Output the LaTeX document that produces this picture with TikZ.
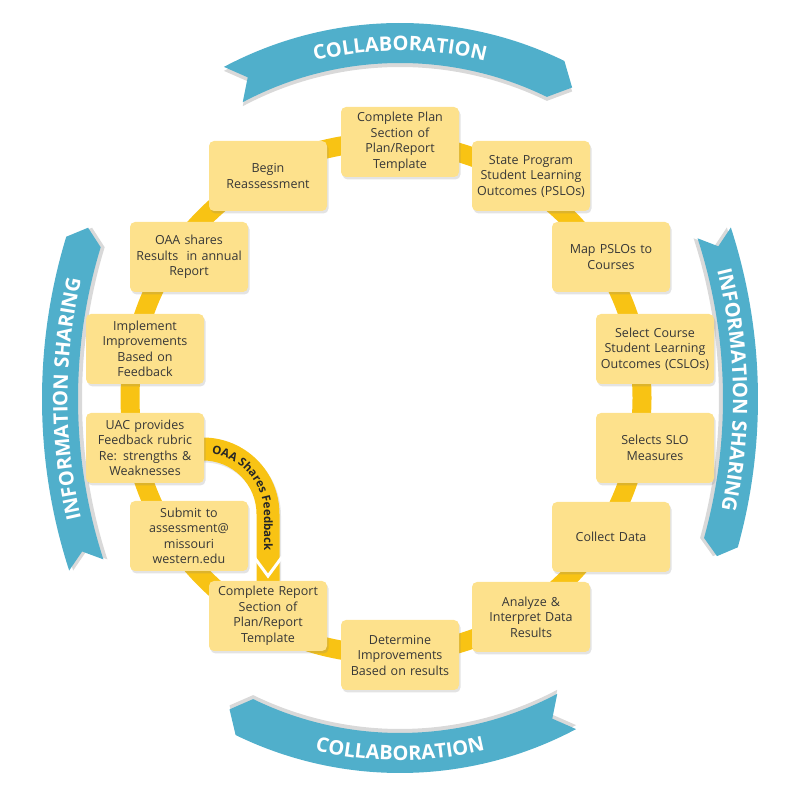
\documentclass[tikz,border=0pt]{standalone}
\usepackage{fontspec}
\setmainfont{Open Sans}
\usetikzlibrary{decorations.text,shadows}
\definecolor{boxfill}{RGB}{253,225,140}
\definecolor{ringc}{RGB}{248,195,20}
\definecolor{ribbonblue}{RGB}{80,175,203}
\definecolor{txt}{RGB}{55,55,55}
\newcommand\rbtxt{\fontsize{20}{20}\selectfont\bfseries\color{white}}
\newcommand\fbtxt{\fontsize{11.5}{13}\selectfont\bfseries\color{black!85}}
\begin{document}
\begin{tikzpicture}[x=1pt,y=1pt,
  stepbox/.style={draw=none, fill=boxfill, rounded corners=5pt,
    minimum width=118pt, minimum height=70pt, text width=114pt, align=center,
    font=\fontsize{12.5}{15.5}\selectfont, text=txt, inner sep=2pt,
    drop shadow={shadow xshift=1.5pt,shadow yshift=-2.5pt,opacity=0.22}},
  ribbonfill/.style={fill=ribbonblue},
  ringline/.style={draw=ringc, line width=19pt},
  feedband/.style={fill=ringc, drop shadow={shadow xshift=1.5pt,shadow yshift=-2pt,opacity=0.2}}
]
\useasboundingbox (0,0) rectangle (800,800);

% ---- ribbons ----
\begin{scope}[shift={(400,402)}]
  \fill[ribbonfill, drop shadow={shadow xshift=0pt,shadow yshift=-4pt,opacity=0.3}]
    (118:375) arc[start angle=118, end angle=64, radius=375] -- (61:355) -- (64:335)
    arc[start angle=64, end angle=118, radius=335] -- (115.4:355) -- cycle;
  \path[decorate, decoration={text along path, text align=center, text={|\rbtxt|COLLABORATION}}]
    (118:347.5) arc[start angle=118, end angle=62, radius=347.5];
  \fill[ribbonfill, drop shadow={shadow xshift=0pt,shadow yshift=4pt,opacity=0.3}]
    (244:375) arc[start angle=244, end angle=298, radius=375] -- (295.4:355) -- (298:335)
    arc[start angle=298, end angle=244, radius=335] -- (241.3:355) -- cycle;
  \path[decorate, decoration={text along path, text align=center, text={|\rbtxt|COLLABORATION}}]
    (242:362.5) arc[start angle=242, end angle=298, radius=362.5];
\end{scope}
\begin{scope}[shift={(203,401)}]
  \fill[ribbonfill, drop shadow={shadow xshift=-4pt,shadow yshift=0pt,opacity=0.3}]
    (18:555) arc[start angle=18, end angle=-15.5, radius=555] -- (-17:537.5) -- (-15.5:520)
    arc[start angle=-15.5, end angle=18, radius=520] -- (16.5:537.5) -- cycle;
  \path[decorate, decoration={text along path, text align=center, text={|\rbtxt|INFORMATION SHARING}}]
    (17:530) arc[start angle=17, end angle=-15, radius=530];
\end{scope}
\begin{scope}[shift={(597,401)}]
  \fill[ribbonfill, drop shadow={shadow xshift=4pt,shadow yshift=0pt,opacity=0.3}]
    (163:555) arc[start angle=163, end angle=198, radius=555] -- (196.5:537) -- (198:519)
    arc[start angle=198, end angle=163, radius=519] -- (161.4:537) -- cycle;
  \path[decorate, decoration={text along path, text align=center, text={|\rbtxt|INFORMATION SHARING}}]
    (197:529.5) arc[start angle=197, end angle=163, radius=529.5];
\end{scope}

% ---- ring ----
\draw[ringline] (386,402) circle[radius=256];

% ---- feedback arrow ----
\fill[feedband] (185,362.5) -- (203,362.5) arc[start angle=90, end angle=0, radius=76.5]
  -- (279.5,205) -- (256.5,205) -- (256.5,286) arc[start angle=0, end angle=90, radius=53.5]
  -- (185,339.5) -- cycle;
\draw[white, line width=3pt] (254,243) -- (268,224) -- (282,243);
\begin{scope}[shift={(203,286)}]
\path[decorate, decoration={text along path, text={|\fbtxt|OAA Shares Feedback}}]
  (82:61) arc[start angle=82, end angle=0, radius=61] -- (61,-70);
\end{scope}

% ---- steps ----
\node[stepbox] (n1)  at (400,658) {Complete Plan\\Section of\\Plan/Report\\Template};
\node[stepbox] (n2)  at (531,624) {State Program\\Student Learning\\Outcomes (PSLOs)};
\node[stepbox] (n3)  at (611,543) {Map PSLOs to\\Courses};
\node[stepbox] (n4)  at (655,451) {Select Course\\Student Learning\\Outcomes (CSLOs)};
\node[stepbox] (n5)  at (655,352) {Selects SLO\\Measures};
\node[stepbox] (n6)  at (611,263) {Collect Data};
\node[stepbox] (n7)  at (531,183) {Analyze \&\\Interpret Data\\Results};
\node[stepbox] (n8)  at (400,145) {Determine\\Improvements\\Based on results};
\node[stepbox] (n9)  at (268,184) {Complete Report\\Section of\\Plan/Report\\Template};
\node[stepbox] (n10) at (189,264) {Submit to\\assessment@\\missouri\\western.edu};
\node[stepbox] (n11) at (145,352) {UAC provides\\Feedback rubric\\Re: strengths \&\\Weaknesses};
\node[stepbox] (n12) at (145,451) {Implement\\Improvements\\Based on\\Feedback};
\node[stepbox] (n13) at (189,543) {OAA shares\\Results\ \ in annual\\Report};
\node[stepbox] (n14) at (268,624) {Begin\\Reassessment};
\end{tikzpicture}
\end{document}
